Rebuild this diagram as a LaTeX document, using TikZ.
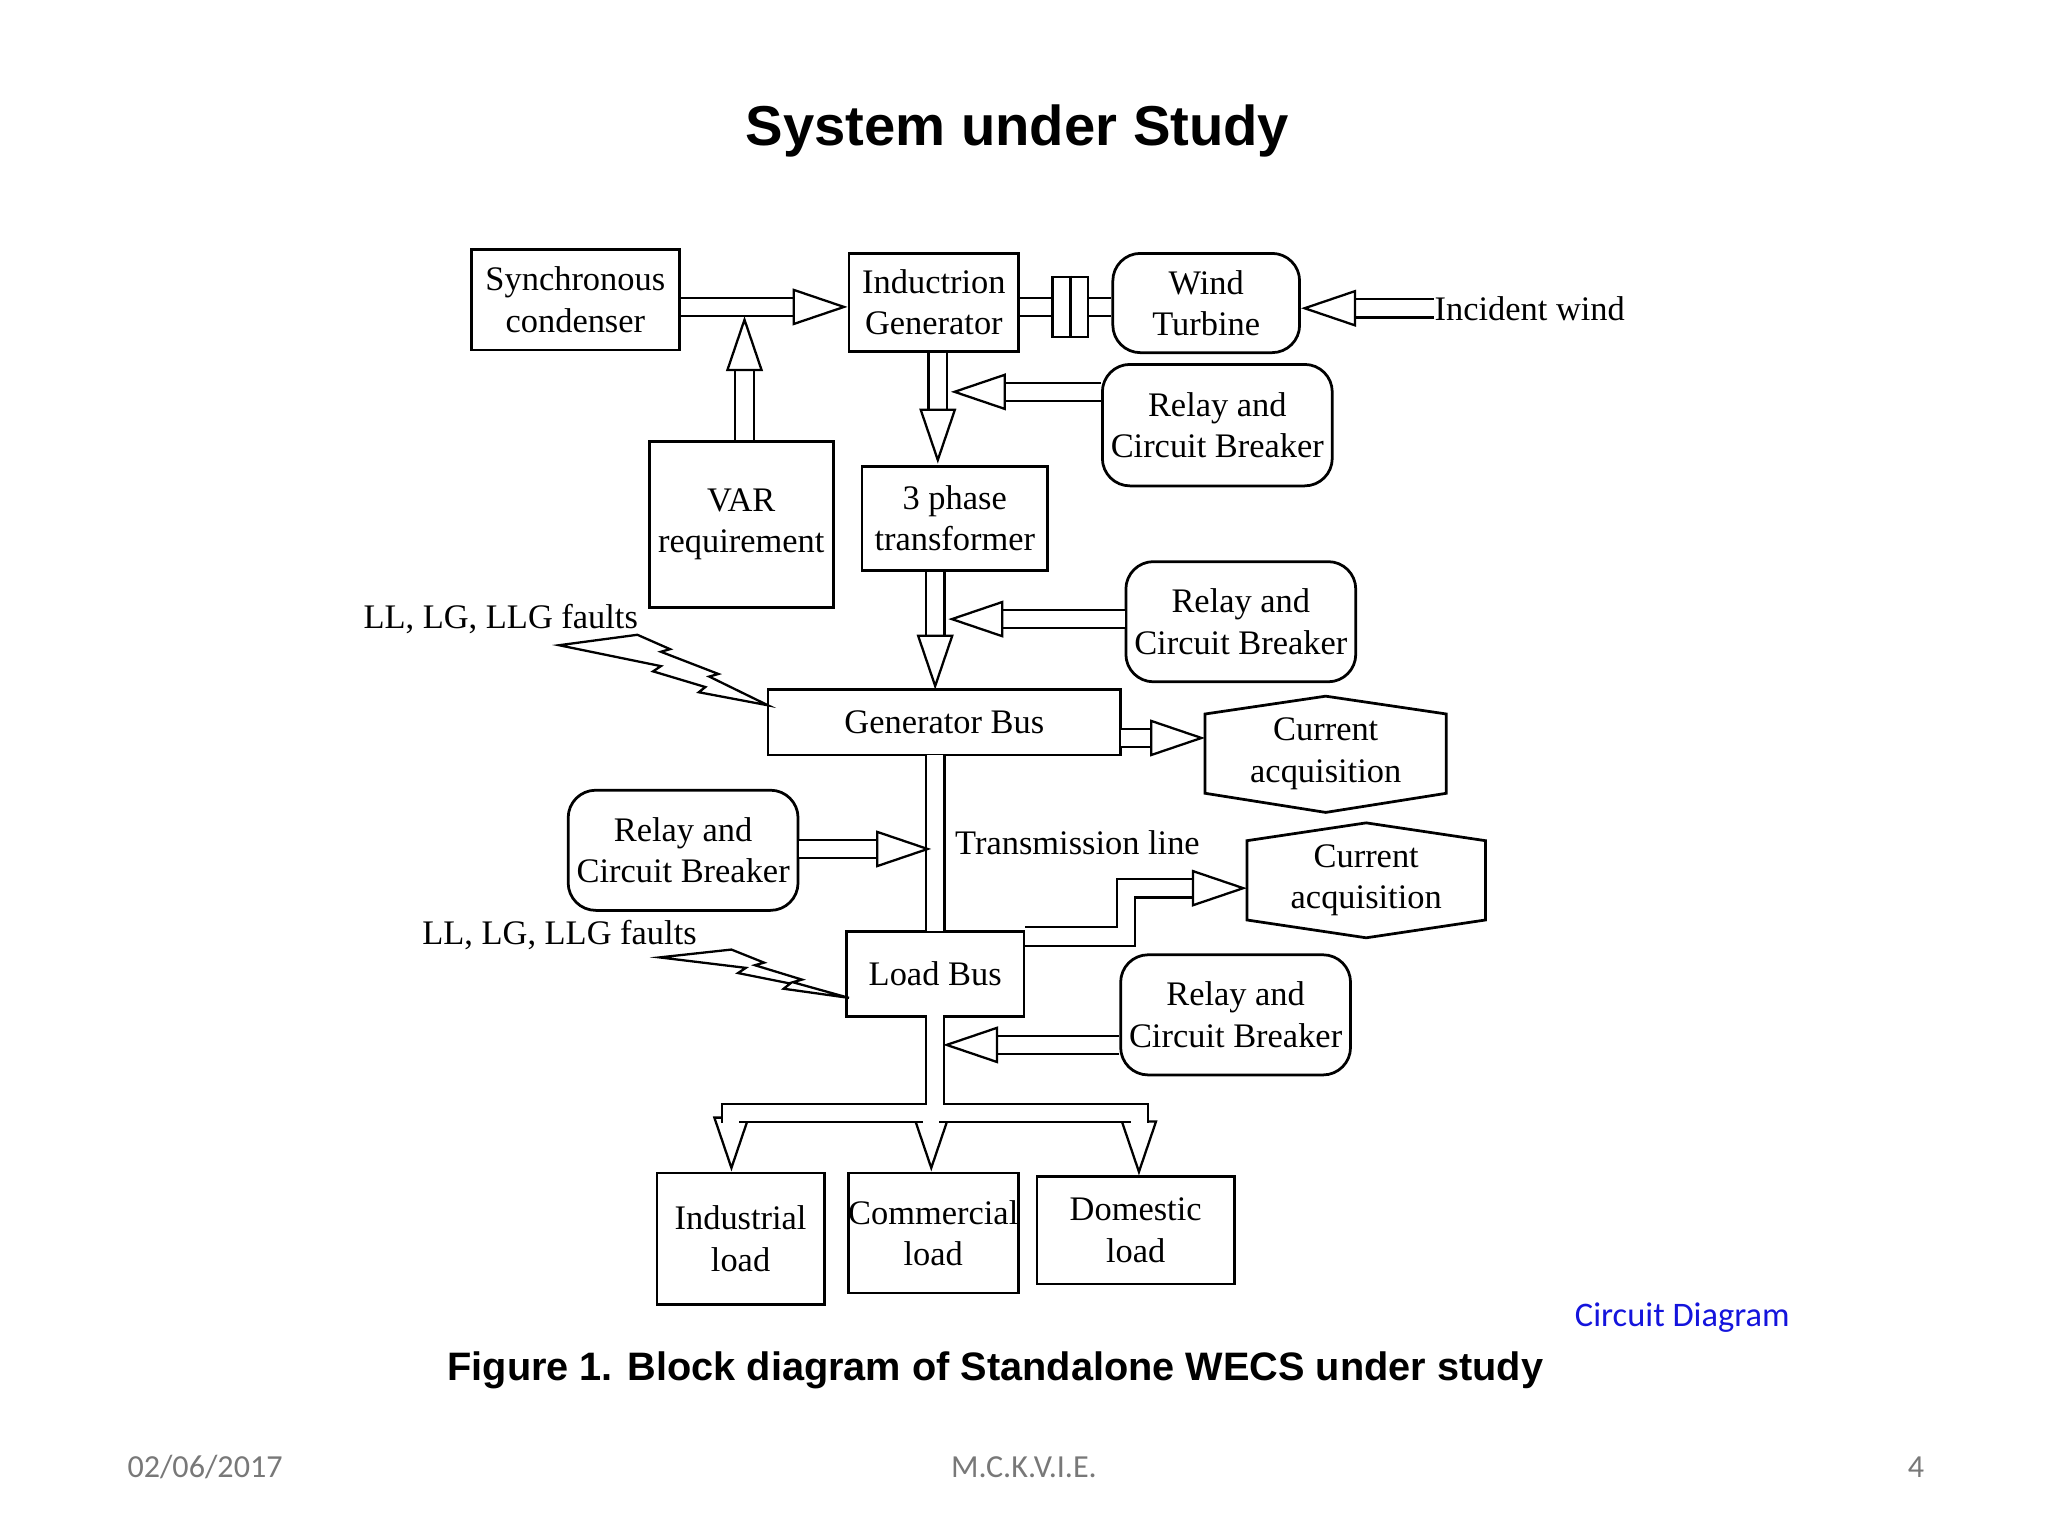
\documentclass[tikz,border=0pt]{standalone}
\usepackage{fontspec}
\setmainfont{Liberation Serif}
\newfontfamily\arialf{Liberation Sans}
\newfontfamily\calif{Carlito}
\usetikzlibrary{arrows.meta}
\definecolor{footgray}{RGB}{120,120,120}
\definecolor{linkblue}{RGB}{20,20,220}
\begin{document}
\begin{tikzpicture}[x=0.02cm,y=-0.02cm,
    box/.style={draw, line width=1.2pt, inner sep=0pt, align=center, font=\fontsize{15}{18}\selectfont},
    rbox/.style={box, rounded corners=12pt},
    txt/.style={inner sep=0pt, font=\fontsize{15}{18}\selectfont},
    harrow/.style={double=white, double distance=7pt, line width=1pt,
        -{Triangle[open, length=24pt, width=16pt, line width=1pt]}},
    hline/.style={double=white, double distance=7pt, line width=1pt},
    bolt/.style={draw, line width=1pt, fill=white}
]
\useasboundingbox (0,0) rectangle (1568,1176);
\node[font=\arialf\bfseries\fontsize{24.5}{28}\selectfont] (title) at (779,100) {System under Study};

% blocks
\node[box, minimum width=159*0.02cm, minimum height=77*0.02cm] (sync) at (440.5,229.5) {Synchronous\\condenser};
\node[box, minimum width=130*0.02cm, minimum height=75*0.02cm] (ig) at (715,231.5) {Inductrion\\Generator};
\node[rbox, minimum width=143*0.02cm, minimum height=76*0.02cm] (wt) at (923.5,232) {Wind\\Turbine};
\node[txt, anchor=west] (wind) at (1098,236) {Incident wind};
\node[box, minimum width=141*0.02cm, minimum height=127*0.02cm] (var) at (567.5,401.5) {VAR\\requirement};
\node[box, minimum width=142*0.02cm, minimum height=80*0.02cm] (tr) at (731,397) {3 phase\\transformer};
\node[rbox, minimum width=176*0.02cm, minimum height=93*0.02cm] (rc1) at (932,325.5) {Relay and\\Circuit Breaker};
\node[rbox, minimum width=176*0.02cm, minimum height=92*0.02cm] (rc2) at (950,476) {Relay and\\Circuit Breaker};
\node[box, minimum width=270*0.02cm, minimum height=50*0.02cm] (gb) at (723,553) {Generator Bus};
\node[rbox, minimum width=176*0.02cm, minimum height=92*0.02cm] (rc3) at (523,651) {Relay and\\Circuit Breaker};
\node[box, minimum width=136*0.02cm, minimum height=65*0.02cm] (lb) at (716,745.5) {Load Bus};
\node[rbox, minimum width=176*0.02cm, minimum height=92*0.02cm] (rc4) at (946,777) {Relay and\\Circuit Breaker};
\node[box, minimum width=128*0.02cm, minimum height=101*0.02cm] (ind) at (567,948.5) {Industrial\\load};
\node[box, minimum width=127*0.02cm, minimum height=92*0.02cm] (com) at (714.5,944) {Commercial\\load};
\node[box, minimum width=151*0.02cm, minimum height=82*0.02cm] (dom) at (869.5,942) {Domestic\\load};

% current acquisition hexagons
\node[txt, align=center, minimum width=184*0.02cm, minimum height=60*0.02cm] (ca1) at (1015,577) {Current\\acquisition};
\draw[line width=1.2pt] (ca1.north west) -- (1015,533) -- (ca1.north east) -- (ca1.south east) -- (1015,622) -- (ca1.south west) -- cycle;
\node[txt, align=center, minimum width=182*0.02cm, minimum height=60*0.02cm] (ca2) at (1046,674) {Current\\acquisition};
\draw[line width=1.2pt] (ca2.north west) -- (1046,630) -- (ca2.north east) -- (ca2.south east) -- (1046,718) -- (ca2.south west) -- cycle;

% fault labels
\node[txt, anchor=west] (f1) at (278,474) {LL, LG, LLG faults};
\node[txt, anchor=west] (f2) at (323,716) {LL, LG, LLG faults};

% coupling
\coordinate (sh1) at (ig.east |- 0,235);
\coordinate (sh2) at (wt.west |- 0,235);
\draw[hline] (sh1) -- (sh2);
\node[draw, line width=1.2pt, fill=white, minimum width=27*0.02cm, minimum height=46*0.02cm, inner sep=0pt] (cpl) at (819.5,235) {};
\draw[line width=1.2pt] (cpl.north) -- (cpl.south);

% hollow arrows
\coordinate (s1) at (sync.east |- 0,235);
\coordinate (v1) at (570,242);
\draw[harrow] (s1) -- (ig.west |- 0,235);
\draw[harrow] (var.north -| v1) -- (v1);
\draw[harrow] (wind.west) -- (wt.east |- wind.west);
\coordinate (t1) at (718,355);
\draw[harrow] (ig.south -| t1) -- (t1);
\coordinate (r1) at (728,300);
\draw[harrow] (rc1.west |- r1) -- (r1);
\coordinate (t2) at (716,528);
\draw[harrow] (tr.south -| t2) -- (t2);
\coordinate (r2) at (726,474);
\draw[harrow] (rc2.west |- r2) -- (r2);
\coordinate (g1) at (858,565);
\draw[harrow] (g1) -- (ca1.west |- g1);
\coordinate (tl1) at (716,578);
\coordinate (tl2) at (716,713);
\draw[hline] (tl1) -- (tl2);
\node[txt, anchor=west] (tlabel) at (731,645) {Transmission line};
\coordinate (r3) at (713,650);
\draw[harrow] (rc3.east |- r3) -- (r3);
\coordinate (lb1) at (784,717);
\draw[harrow] (lb.east |- lb1) -- (862,717) -- (862,680) -- (ca2.west |- 0,680);
\coordinate (r4) at (722,800);
\draw[harrow] (rc4.west |- r4) -- (r4);
% load branches: outlines first, then white cores
\coordinate (j) at (716,852);
\foreach \x/\n in {560/ind, 713/com, 872/dom}
  \draw[harrow] (\x,852) -- (\n.north -| \x,0);
\draw[line width=8.9pt] (lb.south -| j) -- (j);
\draw[line width=8.9pt] (552,852) -- (880,852);
\draw[line width=7pt, white, line cap=rect] (lb.south -| j) ++(0,2) -- (j);
\draw[line width=7pt, white] (553.8,852) -- (878.2,852);
\foreach \x in {560, 713, 872}
  \draw[line width=7pt, white] (\x,852) -- (\x,866);

% fault bolts
\draw[bolt] (428,494) -- (488,486) -- (513,497) -- (506,499) -- (550,516) -- (543,518) -- (588,540)
  -- (535,530) -- (540,526) -- (500,514) -- (506,510) -- cycle;
\draw[bolt] (505,733) -- (560,727) -- (585,737) -- (578,739) -- (614,750) -- (607,752) -- (650,764)
  -- (600,757) -- (605,753) -- (565,745) -- (571,741) -- cycle;

% captions
\node[font=\calif\fontsize{15}{18}\selectfont, text=linkblue] (cd) at (1288,1009) {Circuit Diagram};
\node[font=\arialf\bfseries\fontsize{17.3}{20}\selectfont] (cap) at (762,1049) {Figure 1. Block diagram of Standalone WECS under study};
\node[font=\calif\fontsize{14}{17}\selectfont, text=footgray] (d) at (157,1123) {02/06/2017};
\node[font=\calif\fontsize{14}{17}\selectfont, text=footgray] (m) at (784,1123) {M.C.K.V.I.E.};
\node[font=\calif\fontsize{14}{17}\selectfont, text=footgray] (p) at (1467,1123) {4};
\end{tikzpicture}
\end{document}
